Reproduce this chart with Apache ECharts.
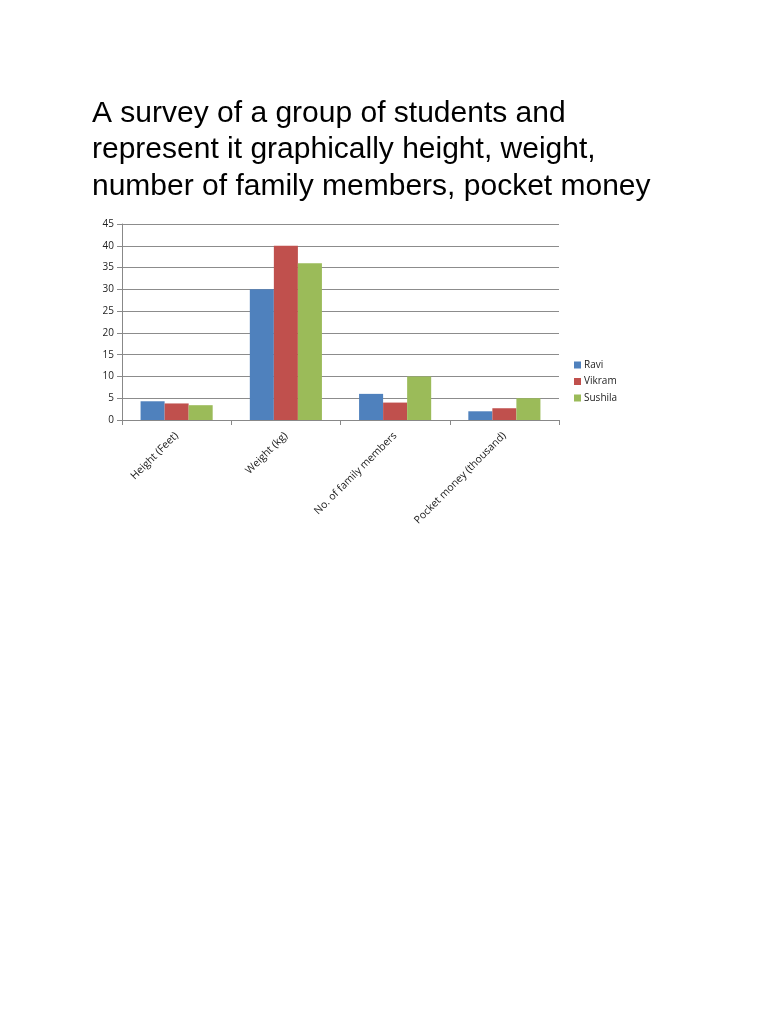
<!DOCTYPE html>
<html><head><meta charset="utf-8">
<script src="https://cdn.jsdelivr.net/npm/echarts@6/dist/echarts.min.js"></script>
<style>html,body{margin:0;padding:0;background:#fff}#c{width:768px;height:1024px}</style>
</head><body><div id="c"></div>
<script>
const categories = ['Height (Feet)', 'Weight (kg)', 'No. of family members', 'Pocket money (thousand)'];
const ravi = [4.3, 30, 6, 2];
const vikram = [3.8, 40, 4, 2.7];
const sushila = [3.4, 36, 10, 5];
const seriesNames = ['Ravi', 'Vikram', 'Sushila'];
const colors = ['#4F81BD', '#C0504D', '#9BBB59'];

const chart = echarts.init(document.getElementById('c'));
chart.setOption({
  animation: false,
  title: {
    text: 'A survey of a group of students and\nrepresent it graphically height, weight,\nnumber of family members, pocket money',
    left: 87, top: 90,
    textStyle: { fontFamily: 'Liberation Sans, Arial, sans-serif', fontSize: 30, fontWeight: 'normal', color: '#000', lineHeight: 36.5 }
  },
  legend: {
    orient: 'vertical', left: 569, top: 355,
    itemWidth: 7, itemHeight: 7, itemGap: 6.5,
    icon: 'rect',
    textStyle: { fontFamily: 'Open Sans, sans-serif', fontSize: 10, color: '#222', padding: [0,0,0,-2] },
    data: seriesNames
  },
  grid: { left: 122, right: 209, top: 224, height: 196, containLabel: false },
  xAxis: {
    type: 'category', data: categories,
    axisLine: { lineStyle: { color: '#888' } },
    axisTick: { show: true, length: 5, lineStyle: { color: '#888' } },
    axisLabel: { rotate: 45, fontFamily: 'Open Sans, sans-serif', fontSize: 10.5, color: '#222', margin: 14, interval: 0 }
  },
  yAxis: {
    type: 'value', min: 0, max: 45, interval: 5,
    axisLine: { show: true, lineStyle: { color: '#888' } },
    axisTick: { show: true, length: 5, lineStyle: { color: '#888' } },
    splitLine: { lineStyle: { color: '#8c8c8c' } },
    axisLabel: { fontFamily: 'Open Sans, sans-serif', fontSize: 10, color: '#222', margin: 8 }
  },
  series: [ravi, vikram, sushila].map((d, i) => ({
    name: seriesNames[i], type: 'bar', data: d,
    itemStyle: { color: colors[i] },
    barGap: '0%', barCategoryGap: '34%'
  }))
});
</script></body></html>
